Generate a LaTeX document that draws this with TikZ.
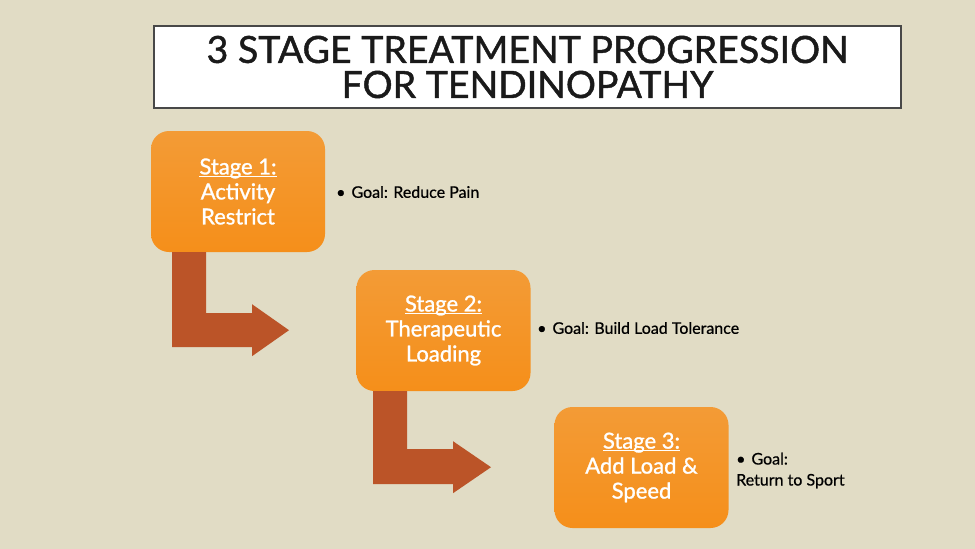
\documentclass[tikz,border=0pt]{standalone}
\usepackage{fontspec}
\setmainfont{Lato}
\newfontfamily\medfont{Lato}[FakeBold=1.2]
\newfontfamily\goalfont{Lato}[FakeBold=0.6]
\usetikzlibrary{calc}
\definecolor{bgc}{HTML}{E1DCC5}
\definecolor{otop}{HTML}{F39B36}
\definecolor{obot}{HTML}{F58F1A}
\definecolor{arrc}{HTML}{BB5428}
\definecolor{titlec}{HTML}{1A1A1A}
\newcommand{\stul}[1]{\setbox0\hbox{#1}\rlap{\rule[-2.5pt]{\wd0}{1.1pt}}\box0}
\tikzset{
  stagebox/.style={rounded corners=18pt, top color=otop, bottom color=obot, draw=none,
    minimum width=174pt, minimum height=121pt, inner sep=0pt, text=white, align=center,
    font=\medfont\fontsize{22}{25}\selectfont},
  goaltext/.style={anchor=west, inner sep=0pt, text=black, font=\goalfont\fontsize{16}{21}\selectfont, align=left},
  bentarrow/.style={fill=arrc, draw=none},
  titlebox/.style={draw=titlec!80, line width=1.6pt, fill=white, minimum width=747pt, minimum height=82pt,
    inner sep=0pt, align=center, text=titlec, font=\medfont\fontsize{37.5}{35}\selectfont}
}
\begin{document}
\begin{tikzpicture}[x=1pt,y=-1pt]
\fill[bgc] (0,0) rectangle (975,549);
\useasboundingbox (0,0) rectangle (975,549);
\node[titlebox] (title) at (527.5,67) {3 STAGE TREATMENT PROGRESSION\\FOR TENDINOPATHY};
\node[stagebox] (b1) at (238,191.5) {\stul{Stage 1:}\\Activity\\Restrict};
\node[stagebox] (b2) at (443.5,330.5) {\stul{Stage 2:}\\Therapeutic\\Loading};
\node[stagebox] (b3) at (641.5,467.5) {\stul{Stage 3:}\\Add Load \&\\Speed};
\fill[bentarrow] ([xshift=-66pt]b1.south) -- ++(34,0) -- ++(0,61) -- ++(46,0) -- ++(0,-9) -- ++(37,26) -- ++(-37,26) -- ++(0,-9) -- ++(-80,0) -- cycle;
\fill[bentarrow] ([xshift=-70.5pt]b2.south) -- ++(34,0) -- ++(0,58) -- ++(46,0) -- ++(0,-8) -- ++(38,26) -- ++(-38,26) -- ++(0,-9) -- ++(-80,0) -- cycle;
\node[goaltext] (g1) at (336,192) {•\hspace{6pt}Goal: Reduce Pain};
\node[goaltext] (g2) at (537,328) {•\hspace{6pt}Goal: Build Load Tolerance};
\node[goaltext] (g3) at (736,470.5) {•\hspace{6pt}Goal:\\Return to Sport};
\end{tikzpicture}
\end{document}
